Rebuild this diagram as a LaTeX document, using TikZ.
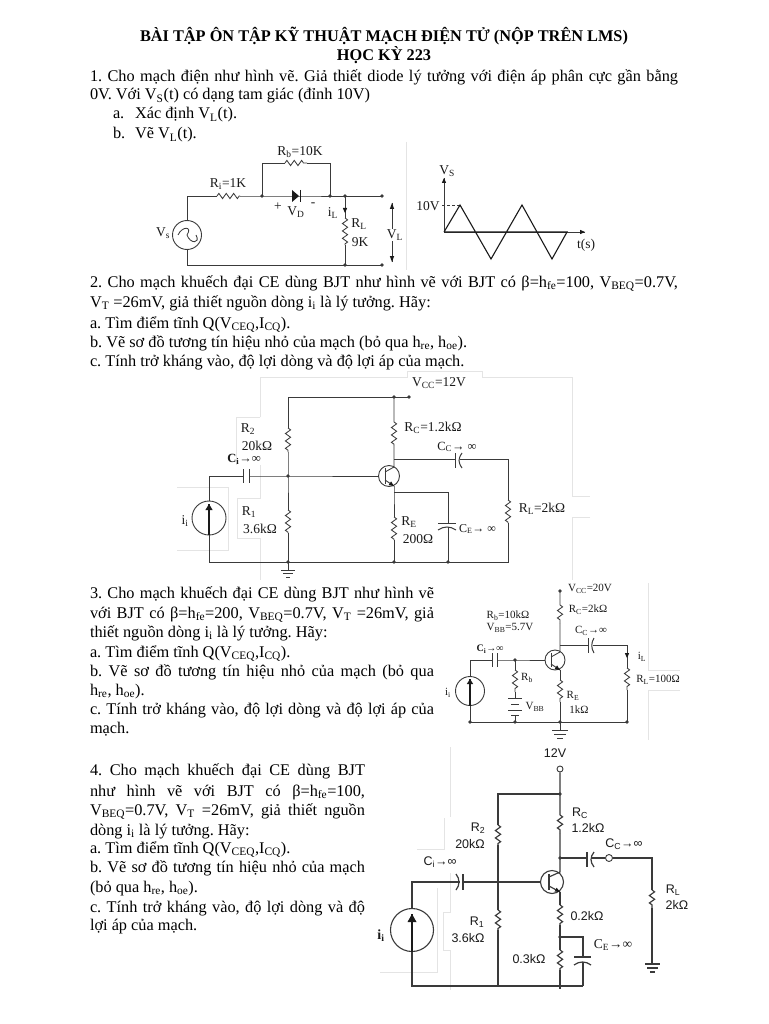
\documentclass[tikz,border=0pt]{standalone}
\usepackage{fontspec}
\setmainfont{Liberation Serif}
\newfontfamily\arialf{Liberation Sans}
\usetikzlibrary{calc,decorations.pathmorphing}
\definecolor{ink}{HTML}{1A1A1A}
\definecolor{wirec}{HTML}{3A3A3A}
\definecolor{frame}{HTML}{E4E4E4}
\newcommand{\su}[1]{\textsubscript{#1}}
\newcommand{\jt}[5]{\node[para](#1) at (#2,#3) {\hbox to #4pt{\frenchspacing\spaceskip=0.25em plus 1fil minus 0.25em\relax #5}};}
\newcommand{\nt}[4]{\node[para](#1) at (#2,#3) {\frenchspacing #4};}
\newcommand{\lb}[4]{\node[lab](#1) at (#2,#3) {#4};}
\newcommand{\jn}[1]{\fill[wirec] (#1) circle[radius=1.8pt];}
% line from #1 to #2 with a filled head of length #3 and half width #4 at #2
\newcommand{\ahead}[4]{\path ($(#2)!#3!(#1)$) coordinate (ahb);
  \fill[ink] (#2) -- ($(ahb)!#4!90:(#2)$) -- ($(ahb)!#4!-90:(#2)$) -- cycle;}
\newcommand{\arw}[2]{\draw[wire] (#1) -- (#2); \ahead{#1}{#2}{5pt}{2.2pt}}
\tikzset{
  para/.style={anchor=base west,inner sep=0pt,outer sep=0pt,font=\fontsize{16.3}{18}\selectfont,text=black},
  lab/.style={inner sep=0pt,outer sep=0pt,font=\fontsize{13.5}{15}\selectfont,text=ink},
  lab3/.style={lab,font=\fontsize{11}{12}\selectfont},
  lab4/.style={lab,font=\fontsize{12.5}{14}\selectfont\arialf},
  wire/.style={draw=wirec,line width=0.85pt},
  res/.style={wire,decorate,decoration={zigzag,segment length=7.4pt,amplitude=2.6pt}},
  src/.style={circle,draw=wirec,line width=0.9pt,inner sep=0pt},
  big/.style={draw=ink,line width=1.3pt},
  plate/.style={wire,line width=1pt},
  fr/.style={draw=frame,line width=0.8pt},
}
\begin{document}
\begin{tikzpicture}[x=1pt,y=-1pt]
\fill[white] (0,0) rectangle (768,1024);
\useasboundingbox (0,0) rectangle (768,1024);
% ---- faint image frames
\draw[fr] (406,142) -- (406,270);
\draw[fr] (260,417) -- (260,377) -- (407,377) -- (407,371) -- (482,371) -- (482,377) -- (572,377) -- (572,496) -- (590,496);
\draw[fr] (590,517) -- (572,517) -- (572,580);
\draw[fr] (260,417) -- (236,417) -- (236,465);
\draw[fr] (177,487) -- (228,487) -- (228,550) -- (177,550);
\draw[fr] (260,465) -- (260,498) -- (237,498) -- (237,538) -- (260,538) -- (260,580);
\draw[fr] (648,583) -- (648,670) -- (680,670);
\draw[fr] (680,690) -- (648,690) -- (648,740);
\draw[fr] (450,747) -- (450,817);
\draw[fr] (417,849) -- (444,849) -- (444,818);
\draw[fr] (450,873) -- (450,912) -- (443,912) -- (443,950) -- (450,950) -- (450,990);
\draw[fr] (437,888) -- (437,972) -- (380,972);
% ---- text
\node[para,anchor=base,font=\fontsize{16.3}{18}\selectfont\bfseries](t1) at (384,42) {BÀI TẬP ÔN TẬP KỸ THUẬT MẠCH ĐIỆN TỬ (NỘP TRÊN LMS)};
\node[para,anchor=base,font=\fontsize{16.3}{18}\selectfont\bfseries](t2) at (384,61) {HỌC KỲ 223};
\jt{a1}{90}{82}{588}{1. Cho mạch điện như hình vẽ. Giả thiết diode lý tưởng với điện áp phân cực gần bằng}
\nt{a2}{90}{100}{0V. Với V\su{S}(t) có dạng tam giác (đỉnh 10V)}
\nt{a3a}{113}{119}{a.}\nt{a3}{135}{119}{Xác định V\su{L}(t).}
\nt{a4a}{113}{139}{b.}\nt{a4}{135}{139}{Vẽ V\su{L}(t).}
\jt{b1}{90}{287}{588}{2. Cho mạch khuếch đại CE dùng BJT như hình vẽ với BJT có β=h\su{fe}=100, V\su{BEQ}=0.7V,}
\nt{b2}{90}{307}{V\su{T} =26mV, giả thiết nguồn dòng i\su{i} là lý tưởng. Hãy:}
\nt{b3}{90}{328}{a. Tìm điểm tĩnh Q(V\su{CEQ},I\su{CQ}).}
\nt{b4}{90}{347}{b. Vẽ sơ đồ tương tín hiệu nhỏ của mạch (bỏ qua h\su{re}, h\su{oe}).}
\nt{b5}{90}{366}{c. Tính trở kháng vào, độ lợi dòng và độ lợi áp của mạch.}
\jt{c1}{90}{598}{344}{3. Cho mạch khuếch đại CE dùng BJT như hình vẽ}
\jt{c2}{90}{618}{344}{với BJT có β=h\su{fe}=200, V\su{BEQ}=0.7V, V\su{T} =26mV, giả}
\nt{c3}{90}{637}{thiết nguồn dòng i\su{i} là lý tưởng. Hãy:}
\nt{c4}{90}{657}{a. Tìm điểm tĩnh Q(V\su{CEQ},I\su{CQ}).}
\jt{c5}{90}{676}{344}{b. Vẽ sơ đồ tương tín hiệu nhỏ của mạch (bỏ qua}
\nt{c6}{90}{695}{h\su{re}, h\su{oe}).}
\jt{c7}{90}{714}{344}{c. Tính trở kháng vào, độ lợi dòng và độ lợi áp của}
\nt{c8}{90}{733}{mạch.}
\jt{d1}{90}{775}{275}{4. Cho mạch khuếch đại CE dùng BJT}
\jt{d2}{90}{796}{275}{như hình vẽ với BJT có β=h\su{fe}=100,}
\jt{d3}{90}{815}{275}{V\su{BEQ}=0.7V, V\su{T} =26mV, giả thiết nguồn}
\nt{d4}{90}{835}{dòng i\su{i} là lý tưởng. Hãy:}
\nt{d5}{90}{853}{a. Tìm điểm tĩnh Q(V\su{CEQ},I\su{CQ}).}
\jt{d6}{90}{872}{275}{b. Vẽ sơ đồ tương tín hiệu nhỏ của mạch}
\nt{d7}{90}{892}{(bỏ qua h\su{re}, h\su{oe}).}
\jt{d8}{90}{912}{275}{c. Tính trở kháng vào, độ lợi dòng và độ}
\nt{d9}{90}{930}{lợi áp của mạch.}
% ---- circuit 1
\node[src,minimum size=29pt](s1) at (187,235) {};
\draw[wire] (s1.center) ++(-9,0) .. controls +(4,-9) and +(6,-9) .. ++(9,0) .. controls +(3,9) and +(5,9) .. ++(9,0);
\coordinate (e1tl) at (187,196); \coordinate (e1bl) at (187,265);
\coordinate (ri1) at (217,196); \coordinate (ri2) at (240,196);
\coordinate (j1) at (262,196); \coordinate (j2) at (330,196); \coordinate (j3) at (345,196); \coordinate (j4) at (382,196);
\coordinate (j3b) at (345,265); \coordinate (j4b) at (382,265);
\coordinate (rb1) at (285,163); \coordinate (rb2) at (307,163);
\coordinate (rbl) at (262,163); \coordinate (rbr) at (330,163);
\coordinate (rl1) at (345,218); \coordinate (rl2) at (345,245); \coordinate (il) at (345,213);
\draw[wire] (s1.north) -- (e1tl) -- (ri1) (ri2) -- (j1) -- (j4);
\draw[res] (ri1) -- (ri2);
\draw[wire] (j1) -- (rbl) -- (rb1) (rb2) -- (rbr) -- (j2);
\draw[res] (rb1) -- (rb2);
\draw[wire] (s1.south) -- (e1bl) -- (j4b);
\arw{j3}{il}
\draw[wire] (il) -- (rl1) (rl2) -- (j3b);
\draw[res] (rl1) -- (rl2);
\fill[ink] (292,190) -- (299,196) -- (292,202) -- cycle;
\draw[ink,line width=1pt] (300,190) -- (300,202);
\foreach \p in {j1,j2,j3,j4,j3b,j4b} {\jn{\p}}
\coordinate (vl1) at (392,203); \coordinate (vl2) at (392,262);
\draw[wire] (vl1) -- (vl2); \ahead{vl2}{vl1}{6pt}{2.2pt} \ahead{vl1}{vl2}{6pt}{2.2pt}
\lb{l1a}{300}{152}{R\su{b}=10K}
\lb{l1b}{228}{184}{R\su{i}=1K}
\lb{l1c}{278}{207}{+}
\lb{l1d}{296}{212}{V\su{D}}
\lb{l1e}{313}{205}{-}
\lb{l1f}{333}{213}{i\su{L}}
\lb{l1g}{359}{224}{R\su{L}}
\lb{l1h}{360}{242}{9K}
\node[lab,fill=white,inner sep=1pt](l1i) at (395,235) {V\su{L}};
\lb{l1j}{163}{233}{V\su{s}}
% graph
\coordinate (g0) at (444,232); \coordinate (gy) at (444,178); \coordinate (gx) at (585,232);
\coordinate (g10) at (442,205); \coordinate (w1) at (460,205); \coordinate (w2) at (491,259);
\coordinate (w3) at (522,205); \coordinate (w4) at (552,259); \coordinate (w5) at (567,232);
\arw{g0}{gy}
\arw{g0}{gx}
\draw[draw=wirec,line width=0.5pt,densely dashed] (g10) -- (w1);
\draw[draw=ink,line width=1.1pt,line join=miter] (g0) -- (w1) -- (w2) -- (w3) -- (w4) -- (w5) -- (g0);
\lb{l1k}{447}{171}{V\su{S}}
\lb{l1l}{428}{206}{10V}
\lb{l1m}{586}{245}{t(s)}
% ---- circuit 2
\coordinate (a) at (288,397); \coordinate (b) at (394,397); \coordinate (c) at (409,397);
\coordinate (r2a) at (288,428); \coordinate (r2b) at (288,452); \coordinate (n2) at (288,476);
\coordinate (r1a) at (288,510); \coordinate (r1b) at (288,533); \coordinate (g2) at (288,562);
\coordinate (cl) at (209,562); \coordinate (il2) at (209,476);
\coordinate (ci1) at (243,476); \coordinate (ci2) at (249,476);
\node[src,minimum size=21pt](q2) at (389,476) {};
\coordinate (rc1) at (394,422); \coordinate (rc2) at (394,445); \coordinate (cn) at (394,459);
\coordinate (en) at (394,492); \coordinate (re1) at (394,517); \coordinate (re2) at (394,540); \coordinate (eb) at (394,562);
\coordinate (cc1) at (455,459); \coordinate (cc2) at (460,459); \coordinate (rlt) at (508,459);
\coordinate (rl3) at (508,500); \coordinate (rl4) at (508,523); \coordinate (rlb) at (508,562);
\coordinate (ce0) at (448,492); \coordinate (ce1) at (448,523); \coordinate (ce2) at (448,527); \coordinate (ceb) at (448,562);
\node[src,minimum size=34pt](s2) at (209,518) {};
\draw[big] (s2.south) -- (209,504); \ahead{s2.south}{209,504}{6pt}{3.6pt}
\draw[wire] (a) -- (c);
\draw[wire] (a) -- (r2a) (r2b) -- (n2) -- (r1a) (r1b) -- (g2);
\draw[res] (r2a) -- (r2b); \draw[res] (r1a) -- (r1b);
\draw[wire] (s2.north) -- (il2) -- (ci1) (ci2) -- (n2) -- (q2.west);
\draw[wire] (s2.south) -- (cl) -- (rlb) -- (rl4) (rl3) -- (rlt) -- (cc2) (cc1) -- (cn);
\draw[res] (rl3) -- (rl4);
\draw[wire] (b) -- (rc1) (rc2) -- (cn) -- (394,467) -- (385,472);
\draw[res] (rc1) -- (rc2);
\draw[plate] (385,468) -- (385,484);
\arw{385,480}{394,486}
\draw[wire] (394,486) -- (en) -- (re1) (re2) -- (eb);
\draw[res] (re1) -- (re2);
\draw[wire] (en) -- (ce0) -- (ce1) (ce2) -- (ceb);
\draw[plate] (243,469) -- (243,483) (249,469) -- (249,483);
\draw[plate] (455,453) -- (455,468);
\draw[plate] (462,453) .. controls (458,459) and (458,462) .. (462,468);
\draw[plate] (438,523) -- (456,523);
\draw[plate] (438,530) .. controls (444,526) and (450,526) .. (456,530);
\foreach \p in {b,c,n2,g2,eb,ceb} {\jn{\p}}
\coordinate (gnd2) at (288,570);
\draw[wire] (g2) -- (gnd2);
\draw[wire] (281,570) -- (295,570) (283,573) -- (293,573) (286,577) -- (290,577);
\lb{l2a}{439}{383}{V\su{CC}=12V}
\lb{l2b}{248}{429}{R\su{2}}
\lb{l2c}{257}{446}{20kΩ}
\node[lab,font=\fontsize{12.5}{14}\selectfont\bfseries](l2d) at (244,459) {C\su{i}→∞};
\lb{l2e}{249}{512}{R\su{1}}
\lb{l2f}{260}{529}{3.6kΩ}
\lb{l2g}{185}{521}{i\su{i}}
\lb{l2h}{433}{428}{R\su{C}=1.2kΩ}
\node[lab,font=\fontsize{12.5}{14}\selectfont](l2i) at (457,447) {C\su{C}→ ∞};
\lb{l2j}{409}{522}{R\su{E}}
\lb{l2k}{418}{539}{200Ω}
\node[lab,font=\fontsize{12}{14}\selectfont,anchor=west](l2l) at (459,529) {C\su{E}→ ∞};
\lb{l2m}{542}{509}{R\su{L}=2kΩ}
% ---- circuit 3
\coordinate (t3) at (560,591); \coordinate (rc3a) at (560,605); \coordinate (rc3b) at (560,623);
\coordinate (c3) at (560,645); \coordinate (e3) at (560,670); \coordinate (re3a) at (560,680); \coordinate (re3b) at (560,702); \coordinate (g3) at (560,722);
\coordinate (c3a) at (588,645); \coordinate (c3b) at (593,645); \coordinate (o3) at (627,645);
\coordinate (il3) at (627,658); \coordinate (rl3a) at (627,668); \coordinate (rl3b) at (627,690); \coordinate (rl3c) at (627,722);
\coordinate (b3l) at (470,660); \coordinate (ci3a) at (492,660); \coordinate (ci3b) at (497,660); \coordinate (j35) at (515,660);
\coordinate (rb3a) at (515,670); \coordinate (rb3b) at (515,692); \coordinate (bat1) at (515,698); \coordinate (bat2) at (515,715); \coordinate (g35) at (515,722);
\coordinate (g3l) at (470,722);
\node[src,minimum size=20pt](q3) at (555,660) {};
\node[src,minimum size=29pt](s3) at (470,691) {};
\draw[big] (s3.south) -- (470,679); \ahead{s3.south}{470,679}{5pt}{3.2pt}
\draw[wire] (t3) -- (rc3a) (rc3b) -- (c3) -- (560,652) -- (551,657);
\draw[res] (rc3a) -- (rc3b);
\draw[plate] (551,653) -- (551,667);
\arw{551,664}{560,670}
\draw[wire] (e3) -- (re3a) (re3b) -- (g3);
\draw[res] (re3a) -- (re3b);
\draw[wire] (c3) -- (c3a) (c3b) -- (o3);
\arw{o3}{il3}
\draw[wire] (il3) -- (rl3a) (rl3b) -- (rl3c) -- (g3l) -- (s3.south);
\draw[res] (rl3a) -- (rl3b);
\draw[wire] (s3.north) -- (b3l) -- (ci3a) (ci3b) -- (j35) -- (q3.west);
\draw[wire] (j35) -- (rb3a) (rb3b) -- (bat1) (bat2) -- (g35);
\draw[res] (rb3a) -- (rb3b);
\draw[plate] (492,653) -- (492,667) (497,653) -- (497,667);
\draw[plate] (588,638) -- (588,653);
\draw[plate] (594,638) .. controls (591,643) and (591,648) .. (594,653);
\draw[plate] (508,698) -- (522,698) (511,704) -- (519,704) (508,710) -- (522,710) (511,715) -- (519,715);
\foreach \p in {t3,g3,j35,g35,g3l,rl3c} {\jn{\p}}
\coordinate (gnd3) at (560,730);
\draw[wire] (g3) -- (gnd3);
\draw[wire] (552,730) -- (568,730) (554,734) -- (566,734) (557,738) -- (563,738);
\node[lab3](l3a) at (590,589) {V\su{CC}=20V};
\node[lab3](l3b) at (508,616) {R\su{b}=10kΩ};
\node[lab3](l3c) at (510,628) {V\su{BB}=5.7V};
\node[lab3](l3d) at (588,610) {R\su{C}=2kΩ};
\node[lab3](l3e) at (591,631) {C\su{C}→∞};
\node[lab3,font=\fontsize{10}{12}\selectfont\bfseries](l3f) at (490,649) {C\su{i}→∞};
\node[lab3](l3g) at (642,657) {i\su{L}};
\node[lab3](l3h) at (658,680) {R\su{L}=100Ω};
\node[lab3](l3i) at (448,693) {i\su{i}};
\node[lab3](l3j) at (527,678) {R\su{b}};
\node[lab3](l3k) at (535,707) {V\su{BB}};
\node[lab3](l3l) at (573,696) {R\su{E}};
\node[lab3](l3m) at (579,710) {1kΩ};
% ---- circuit 4 (heavier lines)
\begin{scope}[wire/.append style={line width=1.15pt},plate/.append style={line width=1.2pt},src/.append style={line width=1.1pt}]
\node[circle,draw=wirec,line width=0.9pt,inner sep=0pt,minimum size=6pt](t4) at (560,769) {};
\coordinate (n4t) at (560,794); \coordinate (n4l) at (498,794);
\coordinate (r42a) at (498,825); \coordinate (r42b) at (498,845); \coordinate (b4) at (498,882);
\coordinate (r41a) at (498,910); \coordinate (r41b) at (498,930); \coordinate (b4b) at (498,986);
\coordinate (rc4a) at (560,815); \coordinate (rc4b) at (560,833); \coordinate (c4) at (560,858);
\coordinate (e4) at (560,892); \coordinate (r4a) at (560,905); \coordinate (r4b) at (560,925);
\coordinate (m4) at (560,937); \coordinate (r4c) at (560,950); \coordinate (r4d) at (560,970); \coordinate (g4) at (560,986);
\coordinate (ce4a) at (583,937); \coordinate (ce4b) at (583,957); \coordinate (ce4c) at (583,962); \coordinate (ce4d) at (583,986);
\coordinate (cc4a) at (587,858); \coordinate (cc4b) at (592,858); \coordinate (o4) at (652,858);
\coordinate (rl4a) at (652,890); \coordinate (rl4b) at (652,908); \coordinate (gl4) at (652,964);
\coordinate (s4t) at (412,882); \coordinate (s4b) at (412,986); \coordinate (ci4a) at (460,882); \coordinate (ci4b) at (463,882);
\node[circle,draw=wirec,line width=0.9pt,inner sep=0pt,minimum size=7pt](oc4) at (609,858) {};
\node[src,minimum size=23pt](q4) at (552,882) {};
\node[src,minimum size=43pt](s4) at (412,930) {};
\draw[big,line width=1.6pt] (s4.south) -- (412,914); \ahead{s4.south}{412,914}{8pt}{4.5pt}
\draw[wire] (t4.south) -- (n4t) -- (rc4a) (rc4b) -- (c4) -- (560,872) -- (549,877);
\draw[res] (rc4a) -- (rc4b);
\draw[wire] (n4t) -- (n4l) -- (r42a) (r42b) -- (b4) -- (r41a) (r41b) -- (b4b);
\draw[res] (r42a) -- (r42b); \draw[res] (r41a) -- (r41b);
\draw[plate,line width=1.3pt] (549,874) -- (549,890);
\arw{549,886}{560,892}
\draw[wire] (e4) -- (r4a) (r4b) -- (m4) -- (r4c) (r4d) -- (g4) -- (560,989);
\draw[res] (r4a) -- (r4b); \draw[res] (r4c) -- (r4d);
\draw[wire] (m4) -- (ce4a) -- (ce4b) (ce4c) -- (ce4d);
\draw[wire] (s4.south) -- (s4b) -- (ce4d);
\draw[wire] (s4.north) -- (s4t) -- (ci4a) (ci4b) -- (b4) -- (q4.west);
\draw[wire] (c4) -- (cc4a) (cc4b) -- (oc4.west) (oc4.east) -- (o4) -- (rl4a) (rl4b) -- (gl4);
\draw[res] (rl4a) -- (rl4b);
\draw[plate] (587,852) -- (587,867);
\draw[plate] (594,852) .. controls (590,857) and (590,862) .. (594,867);
\draw[plate] (456,874) .. controls (460,879) and (460,885) .. (456,890);
\draw[plate] (463,874) -- (463,890);
\draw[plate] (574,957) -- (591,957);
\draw[plate] (574,965) .. controls (579,961) and (586,961) .. (591,965);
\foreach \p in {n4t,b4,c4,m4,g4} {\jn{\p}}
\draw[wire] (645,964) -- (660,964) (647,968) -- (658,968) (650,972) -- (655,972);
\end{scope}
\node[lab4](l4a) at (555,753) {12V};
\node[lab4](l4b) at (580,813) {R\su{C}};
\node[lab4](l4c) at (588,828) {1.2kΩ};
\node[lab4](l4d) at (478,828) {R\su{2}};
\node[lab4](l4e) at (470,844) {20kΩ};
\node[lab4](l4f) at (624,844) {C\su{C}→∞};
\node[lab4](l4g) at (440,862) {C\su{i}→∞};
\node[lab4](l4h) at (477,922) {R\su{1}};
\node[lab4](l4i) at (468,938) {3.6kΩ};
\node[lab4](l4j) at (587,916) {0.2kΩ};
\node[lab,font=\fontsize{13.5}{14}\selectfont](l4k) at (613,945) {C\su{E}→∞};
\node[lab4](l4l) at (529,959) {0.3kΩ};
\node[lab4](l4m) at (673,890) {R\su{L}};
\node[lab4](l4n) at (677,905) {2kΩ};
\node[lab,font=\fontsize{14}{15}\selectfont\bfseries](l4o) at (381,936) {i\su{i}};
\end{tikzpicture}
\end{document}
